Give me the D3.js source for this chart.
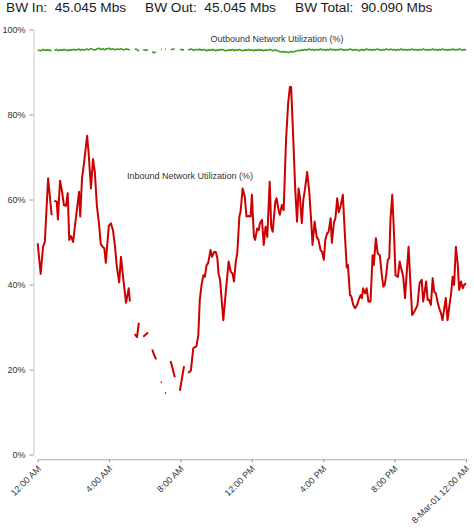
<!DOCTYPE html>
<html>
<head>
<meta charset="utf-8">
<script src="https://cdn.jsdelivr.net/npm/d3@7"></script>
<style>
  body { margin: 0; background: #fff; }
  svg { font-family: "Liberation Sans", Arial, sans-serif; }
</style>
</head>
<body>
<svg width="474" height="531"></svg>
<script>
// Header totals
var headerLabels = ["BW In:  45.045 Mbs", "BW Out:  45.045 Mbs", "BW Total:  90.090 Mbs"];

// x axis ticks (hours of the day)
var tickHours = [0, 4, 8, 12, 16, 20, 24];
var tickLabels = ["12:00 AM", "4:00 AM", "8:00 AM", "12:00 PM", "4:00 PM", "8:00 PM", "8-Mar-01 12:00 AM"];
var yTicks = [0, 20, 40, 60, 80, 100];

// sample times, minutes after midnight
var minutes = [
  0, 10, 18, 24, 35, 47, 51, 56, 64, 68,
  75, 82, 88, 95, 101, 106, 112, 119, 129, 139,
  143, 149, 156, 166, 171, 179, 186, 192, 199, 206,
  212, 219, 224, 229, 239, 246, 253, 260, 266, 274,
  280, 287, 297, 306, 310, 318, 326, 334, 340, 347,
  355, 371, 378, 385, 391, 398, 405, 414, 417, 421,
  428, 431, 438, 447, 461, 470, 478, 492, 499, 506,
  515, 523, 534, 540, 545, 551, 557, 562, 568, 573,
  581, 586, 593, 599, 604, 608, 613, 624, 633, 642,
  649, 655, 660, 666, 671, 678, 682, 689, 696, 702,
  709, 716, 720, 727, 731, 738, 743, 747, 754, 760,
  766, 772, 780, 785, 790, 799, 803, 810, 814, 821,
  827, 835, 842, 848, 852, 859, 866, 872, 877, 882,
  888, 893, 899, 906, 913, 920, 924, 931, 938, 944,
  951, 956, 962, 967, 973, 978, 985, 989, 996, 1001,
  1007, 1012, 1018, 1026, 1033, 1039, 1043, 1050, 1054, 1061,
  1067, 1074, 1081, 1086, 1090, 1094, 1101, 1106, 1112, 1119,
  1126, 1130, 1137, 1143, 1150, 1157, 1162, 1167, 1173, 1177,
  1182, 1186, 1192, 1198, 1203, 1211, 1217, 1222, 1229, 1235,
  1241, 1247, 1252, 1259, 1266, 1272, 1277, 1284, 1291, 1296,
  1302, 1306, 1311, 1316, 1322, 1328, 1333, 1339, 1344, 1350,
  1356, 1361, 1367, 1372, 1378, 1383, 1390, 1395, 1400, 1406,
  1412, 1417, 1423, 1429, 1434, 1440
];

// Inbound utilization (%), null = no sample
var inbound = [
  49.7, 42.5, 48.9, 50, 65, 56.3, null, 59.7, 59.5, 55.3,
  64.4, 61.8, 58.7, 58.5, 61.5, 50.5, 51.4, 50, 56, 61.8,
  56, 65, 68.7, 75, 71.2, 62.6, 69.5, 66.5, 58.5, 54.4,
  49.5, 48.8, 48.5, 45.1, 53.8, 54.4, 52.8, 48.9, 44.2, 40.5,
  46.5, 41.8, 35.7, 39.1, 36, null, 28.3, 27.6, 31, null,
  27.7, 28.7, null, 24.7, 23.5, 22.4, null, 17.1, 17.0, null,
  14.5, 14.4, null, 22, 18.2, null, 15, 20.8, null, 19.2,
  19.7, 25, 25.5, 28.1, 36.4, 39.9, 42.2, 41.8, 44.6, 45,
  48.1, 46.5, 47.7, 47.6, 46.2, 42.6, 41.2, 31.6, 38.7, 45.4,
  43, 42.6, 40.7, 45.4, 47.3, 56, 57.1, 62.6, 60.7, 56,
  56.1, 56, 61.1, 51.2, 50.5, 53.2, 52.8, 54.4, 55.2, 49.3,
  53.6, 51.2, 64.2, 53.6, 52.4, 59.5, 60.3, 57.5, 56.4, 58.7,
  57.5, 74, 82.6, 86.5, 86.5, 74.8, 62.2, 54.8, 62.6, 60.3,
  54.4, 59.9, 62.6, 66.5, 61.8, 54.4, 49.3, 54.8, 51.2, 50.5,
  48.1, 47.7, 45.8, 50.5, 52, 52.4, 55.6, 49.8, 54.6, 55.6,
  60.3, 57, 58.3, 61.1, 51.5, 44, 44.6, 37.5, 37.3, 35.2,
  34.4, 35.2, 36.8, 37.5, 36.8, 39.1, 37.9, 39.1, 36, 36,
  46.9, 44.6, 50.9, 47.3, 46.9, 42.2, 39.5, 39.9, 43, 45.8,
  46.2, 55.2, 61.1, 52, 42.2, 41.8, 45.4, 43.8, 41.8, 36.8,
  43, 48.9, 41.8, 32.8, 33.6, 34.4, 35.2, 40.3, 41.1, 36,
  38.7, 40.7, 36.4, 36.4, 35.2, 41.5, 38.3, 37.9, 36, 34.4,
  33.2, 31.6, 34.4, 36.8, 31.6, 34.4, 37.9, 41.8, 39.9, 48.9,
  45, 38.7, 40.7, 39.1, 39.9, 40.3
];

// Outbound utilization (%)
var outbound = [
  95.2, 95.0, 95.3, 95.1, 95.2, 95.0, null, 95.1, 95.3, 95.0,
  95.2, 95.1, 95.3, 95.2, 95.0, 95.2, 95.1, 95.3, 95.2, 95.4,
  95.1, 95.3, 95.2, 95.4, 95.2, 95.5, 95.3, 95.2, 95.4, 95.6,
  95.3, 95.5, 95.2, 95.4, 95.6, 95.3, 95.5, 95.2, 95.4, 95.3,
  95.5, 95.2, 95.4, 95.3, 95.2, null, 95.4, 95.3, 94.9, null,
  95.2, 95.1, null, 94.8, 94.5, 94.7, null, 95.3, 95.3, null,
  95.4, 95.4, null, 95.3, 95.4, null, 95.3, 95.2, null, 95.2,
  95.4, 95.1, 95.3, 95.2, 95.4, 95.1, 95.3, 95.2, 95.0, 95.2,
  95.1, 95.3, 95.2, 95.0, 95.2, 95.1, 95.3, 95.2, 95.0, 95.2,
  95.1, 95.3, 95.0, 95.2, 95.1, 95.3, 95.2, 95.0, 95.2, 95.1,
  95.3, 95.1, 95.2, 95.0, 95.2, 95.1, 95.3, 95.1, 95.2, 95.0,
  95.2, 95.1, 95.3, 95.2, 95.0, 95.2, 95.1, 94.9, 94.8, 94.7,
  94.8, 94.7, 94.6, 94.7, 94.8, 94.7, 94.9, 95.0, 95.1, 95.0,
  95.2, 95.1, 95.3, 95.2, 95.4, 95.2, 95.3, 95.1, 95.3, 95.2,
  95.4, 95.2, 95.3, 95.1, 95.3, 95.2, 95.4, 95.2, 95.3, 95.1,
  95.3, 95.2, 95.4, 95.2, 95.1, 95.3, 95.2, 95.4, 95.3, 95.1,
  95.3, 95.2, 95.0, 95.2, 95.3, 95.1, 95.2, 95.4, 95.2, 95.3,
  95.1, 95.3, 95.2, 95.4, 95.2, 95.1, 95.3, 95.2, 95.4, 95.3,
  95.2, 95.4, 95.2, 95.3, 95.1, 95.3, 95.2, 95.4, 95.2, 95.3,
  95.1, 95.3, 95.2, 95.4, 95.2, 95.3, 95.1, 95.3, 95.2, 95.4,
  95.2, 95.3, 95.1, 95.3, 95.2, 95.4, 95.2, 95.3, 95.1, 95.3,
  95.2, 95.4, 95.2, 95.3, 95.1, 95.3, 95.2, 95.4, 95.2, 95.3,
  95.2, 95.4, 95.3, 95.1, 95.3, 95.2
];

var svg = d3.select("svg");

// scales
var x = d3.scaleLinear().domain([0, 1440]).range([37.7, 466]);
var y = d3.scaleLinear().domain([0, 100]).range([454.5, 29.5]);

// header
svg.selectAll("text.header")
    .data(headerLabels)
    .enter().append("text")
    .attr("class", "header")
    .attr("x", (d, i) => [6, 145, 295][i])
    .attr("y", 12)
    .attr("font-size", 13.7)
    .attr("fill", "#1a1a1a")
    .style("white-space", "pre")
    .text(d => d);

// y axis
var yAxis = svg.append("g")
    .attr("transform", "translate(33.5,0)")
    .call(d3.axisLeft(y).tickValues(yTicks).tickFormat(d => d + "%").tickSize(4).tickSizeOuter(0).tickPadding(4));
yAxis.select(".domain").attr("stroke", "#c8c8c8");
yAxis.selectAll(".tick line").attr("stroke", "#999");
yAxis.selectAll("text").attr("font-size", 9).attr("fill", "#333").attr("font-family", "Liberation Sans, Arial, sans-serif");

// x axis
var xAxis = svg.append("g")
    .attr("transform", "translate(0,459.3)")
    .call(d3.axisBottom(x).tickValues(tickHours.map(h => h * 60))
        .tickFormat((d, i) => tickLabels[i]).tickSize(3).tickSizeOuter(0));
xAxis.select(".domain").attr("stroke", "#aaa");
xAxis.selectAll(".tick line").attr("stroke", "#999");
xAxis.selectAll("text")
    .attr("font-size", 9)
    .attr("fill", "#333")
    .attr("font-family", "Liberation Sans, Arial, sans-serif")
    .attr("text-anchor", "end")
    .attr("y", 0)
    .attr("dy", "0.35em")
    .attr("transform", "translate(1,8) rotate(-45)");

// lines
function drawSeries(values, color, width) {
    var line = d3.line()
        .defined((d, i) => values[i] != null)
        .x((d, i) => x(minutes[i]))
        .y((d, i) => y(values[i]));
    svg.append("path")
        .datum(values)
        .attr("fill", "none")
        .attr("stroke", color)
        .attr("stroke-width", width)
        .attr("stroke-linejoin", "round")
        .attr("d", line);
}

drawSeries(outbound, "#3c9c1c", 1.6);
drawSeries(inbound, "#cc0000", 2);

// series labels
svg.append("text")
    .attr("x", 277).attr("y", 42)
    .attr("text-anchor", "middle")
    .attr("font-size", 9).attr("fill", "#333")
    .text("Outbound Network Utilization (%)");

svg.append("text")
    .attr("x", 127).attr("y", 179)
    .attr("font-size", 9).attr("fill", "#333")
    .text("Inbound Network Utilization (%)");
</script>
</body>
</html>
